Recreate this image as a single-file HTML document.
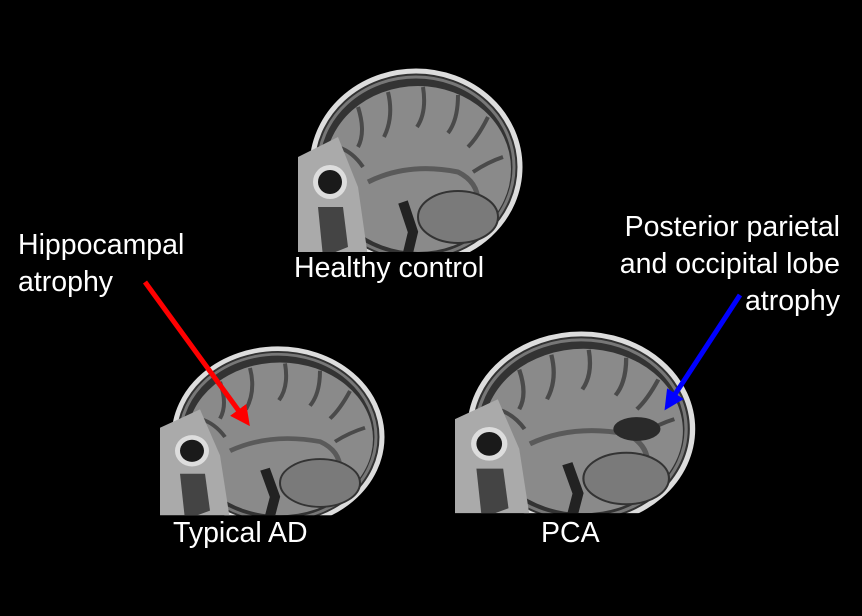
<!DOCTYPE html>
<html><head><style>
body{margin:0;background:#000;width:862px;height:616px;overflow:hidden;position:relative;font-family:"Liberation Sans",sans-serif;color:#fff}
.t{position:absolute;font-size:28.5px;line-height:37px;white-space:nowrap}
</style></head><body>
<svg width="862" height="616" style="position:absolute;left:0;top:0">
<defs>
<clipPath id="c"><rect x="-5" y="-5" width="240" height="190"/></clipPath>
<g id="b">
<g clip-path="url(#c)">
<ellipse cx="118" cy="100" rx="106" ry="98" fill="#333"/>
<ellipse cx="118" cy="100" rx="104" ry="96" fill="none" stroke="#ddd" stroke-width="5"/>
<ellipse cx="118" cy="100" rx="98" ry="90" fill="none" stroke="#777" stroke-width="3"/>
<ellipse cx="120" cy="102" rx="93" ry="83" fill="#8a8a8a"/>
<path d="M60 40 q8 25 0 40 M90 25 q6 25 -4 45 M125 20 q4 25 -6 40 M160 28 q0 25 -10 38 M190 50 q-10 20 -20 30 M205 90 q-15 5 -30 15 M40 80 q15 5 25 20" stroke="#4a4a4a" stroke-width="4" fill="none"/>
<path d="M70 115 q40 -20 90 -10 q20 10 20 30" stroke="#5a5a5a" stroke-width="5" fill="none"/>
<ellipse cx="160" cy="150" rx="40" ry="26" fill="#7a7a7a" stroke="#333" stroke-width="2"/>
<path d="M105 135 l10 30 l-6 25" stroke="#222" stroke-width="10" fill="none"/>
<path d="M0 90 L40 70 L60 120 L70 190 L0 190 Z" fill="#aaa"/>
<path d="M20 140 l25 0 l5 40 l-25 10 Z" fill="#444"/>
<circle cx="32" cy="115" r="17" fill="#ddd"/>
<circle cx="32" cy="115" r="12" fill="#1a1a1a"/>
</g></g>
<marker id="ar" markerWidth="4" markerHeight="4" refX="2" refY="2" orient="auto"><path d="M0 0L4 2L0 4Z" fill="#f00"/></marker>
<marker id="ab" markerWidth="4" markerHeight="4" refX="2" refY="2" orient="auto"><path d="M0 0L4 2L0 4Z" fill="#00f"/></marker>
</defs>
<use href="#b" transform="translate(298,67)"/>
<use href="#b" transform="translate(160,345) scale(1,0.92)"/>
<g transform="translate(455,330) scale(1.07,0.99)">
<use href="#b"/>
<ellipse cx="170" cy="100" rx="22" ry="12" fill="#2a2a2a"/>
</g>
<line x1="145" y1="282" x2="244" y2="418" stroke="#f00" stroke-width="5" marker-end="url(#ar)"/>
<line x1="740" y1="295" x2="670" y2="402" stroke="#00f" stroke-width="5" marker-end="url(#ab)"/>
</svg>
<div class="t" style="left:294px;top:250px">Healthy control</div>
<div class="t" style="left:18px;top:227px">Hippocampal<br>atrophy</div>
<div class="t" style="left:173px;top:515px">Typical AD</div>
<div class="t" style="left:541px;top:515px">PCA</div>
<div class="t" style="right:22px;top:209px;text-align:right">Posterior parietal<br>and occipital lobe<br>atrophy</div>
</body></html>
